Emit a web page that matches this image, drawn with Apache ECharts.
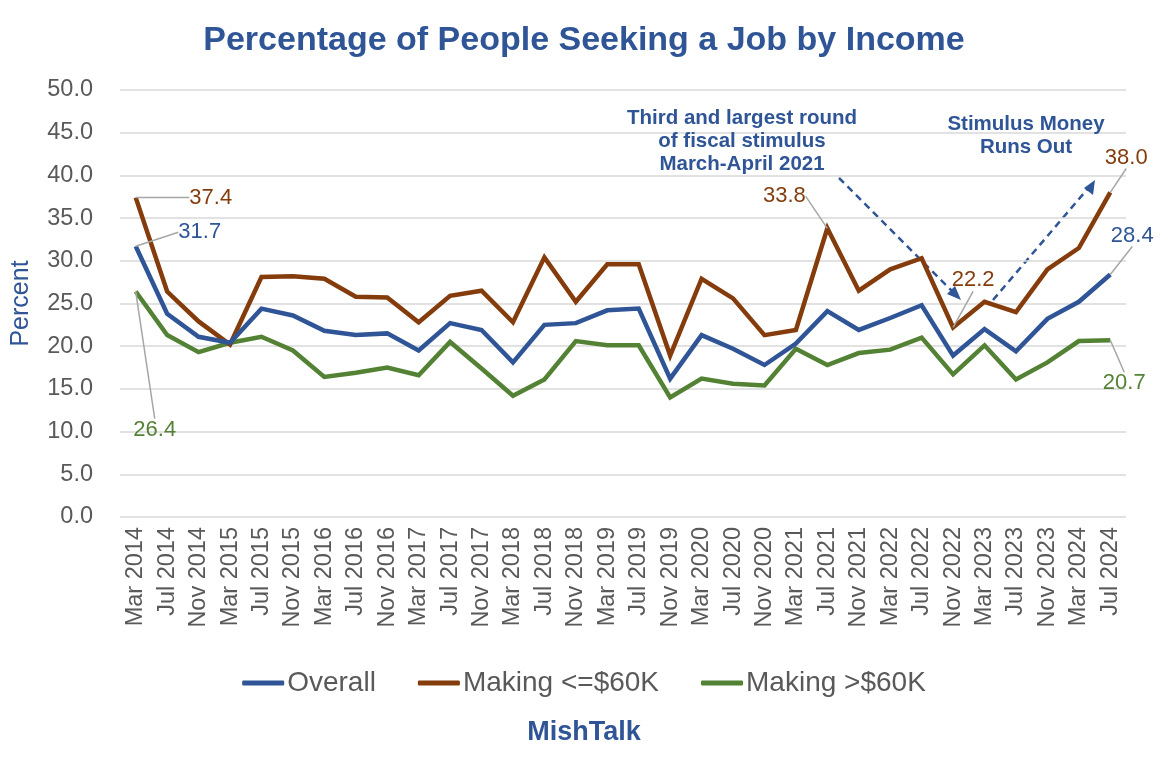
<!DOCTYPE html>
<html>
<head>
<meta charset="utf-8">
<script src="https://cdn.jsdelivr.net/npm/echarts@6/dist/echarts.min.js"></script>
<style>html,body{margin:0;padding:0;background:#fff}#c{width:1168px;height:779px}</style>
</head>
<body>
<div id="c"></div>
<script>
const categories = ['Mar 2014','Jul 2014','Nov 2014','Mar 2015','Jul 2015','Nov 2015','Mar 2016','Jul 2016','Nov 2016','Mar 2017','Jul 2017','Nov 2017','Mar 2018','Jul 2018','Nov 2018','Mar 2019','Jul 2019','Nov 2019','Mar 2020','Jul 2020','Nov 2020','Mar 2021','Jul 2021','Nov 2021','Mar 2022','Jul 2022','Nov 2022','Mar 2023','Jul 2023','Nov 2023','Mar 2024','Jul 2024'];
const overall = [31.7,23.8,21.1,20.4,24.4,23.6,21.8,21.3,21.5,19.5,22.7,21.9,18.1,22.5,22.7,24.2,24.4,16.2,21.3,19.7,17.8,20.3,24.1,21.9,23.3,24.8,18.9,22.0,19.4,23.2,25.2,28.4];
const lowIncome = [37.4,26.4,22.9,20.2,28.1,28.2,27.9,25.8,25.7,22.8,25.9,26.5,22.8,30.4,25.2,29.6,29.6,18.9,27.9,25.6,21.3,21.9,33.8,26.5,29.0,30.3,22.2,25.2,24.0,29.0,31.5,38.0];
const highIncome = [26.4,21.3,19.3,20.4,21.1,19.5,16.4,16.9,17.5,16.6,20.5,17.4,14.2,16.1,20.6,20.1,20.1,14.0,16.2,15.6,15.4,19.7,17.8,19.2,19.6,21.0,16.7,20.1,16.1,18.1,20.6,20.7];
const yTicks = [0,5,10,15,20,25,30,35,40,45,50];
const seriesNames = ['Overall','Making <=$60K','Making >$60K'];
const colors = ['#2F5597','#843C0C','#548235'];
// label offsets (dx, dy from point) for the labelled points
const labelOffsets = [
  {0:[64,-14], 31:[22,-39]},
  {0:[75,0], 22:[-43,-32], 26:[20,-47], 31:[16,-35]},
  {0:[19,138], 31:[14,43]}
];
const chart = echarts.init(document.getElementById('c'));
function mkSeries(i, arr){
  const offs = labelOffsets[i];
  return {
    name: seriesNames[i], type:'line', symbol:'circle', symbolSize:0.1, showSymbol:true,
    lineStyle:{width:4.5, color:colors[i], join:'miter'}, itemStyle:{color:colors[i]},
    emphasis:{disabled:true}, z: i===0?4:(i===1?3:2),
    data: arr.map((v,k)=> offs[k] ? {value:v, label:{show:true}, labelLine:{show:true}} : {value:v}),
    label:{show:false, position:'inside', formatter:p=>p.value.toFixed(1), color:colors[i], fontSize:22, fontFamily:'Liberation Sans, sans-serif'},
    labelLine:{show:false, lineStyle:{color:'#A6A6A6', width:1.5}},
    labelLayout: function(p){ const o = offs[p.dataIndex]; return o ? {dx:o[0], dy:o[1]} : {}; }
  };
}
const option = {
  animation:false,
  backgroundColor:'#fff',
  title:{text:'Percentage of People Seeking a Job by Income', left:'center', top:19,
    textStyle:{color:'#2F5597', fontSize:34, fontWeight:'bold', fontFamily:'Liberation Sans, sans-serif'}},
  grid:{left:120, right:42, top:90, height:427, outerBoundsMode:'none'},
  legend:{bottom:77, left:'center', itemWidth:42, itemHeight:5, itemGap:42, icon:'roundRect',
    textStyle:{color:'#595959', fontSize:28, padding:[0,0,0,-2], fontFamily:'Liberation Sans, sans-serif'}, data:seriesNames},
  xAxis:{type:'category', data:categories, boundaryGap:true,
    axisLine:{show:false}, axisTick:{show:false},
    axisLabel:{rotate:90, interval:0, color:'#595959', fontSize:23.5, margin:10, fontFamily:'Liberation Sans, sans-serif'}},
  yAxis:{type:'value', min:0, max:50, interval:5,
    name:'Percent', nameLocation:'middle', nameGap:86, nameRotate:90,
    nameTextStyle:{color:'#2F5597', fontSize:25, fontFamily:'Liberation Sans, sans-serif'},
    axisLine:{show:false}, axisTick:{show:false},
    splitLine:{lineStyle:{color:'#D9D9D9', width:1.5}},
    axisLabel:{color:'#595959', fontSize:23.5, margin:27, formatter:v=>v.toFixed(1), fontFamily:'Liberation Sans, sans-serif'}},
  series:[mkSeries(1,lowIncome), mkSeries(2,highIncome), mkSeries(0,overall)],
  graphic:[
    {type:'text', left:'center', top:719, style:{text:'MishTalk', fill:'#2F5597', font:'bold 27px "Liberation Sans", sans-serif'}},
    {type:'text', x:742, y:106.5, z:100, style:{text:'Third and largest round\nof fiscal stimulus\nMarch-April 2021', fill:'#2F5597', align:'center', lineHeight:23, font:'bold 20.5px "Liberation Sans", Arial, sans-serif'}},
    {type:'text', x:1026, y:113, z:100, style:{text:'Stimulus Money\nRuns Out', fill:'#2F5597', align:'center', lineHeight:23, font:'bold 20.5px "Liberation Sans", Arial, sans-serif'}},
    {type:'line', shape:{x1:839, y1:178, x2:955, y2:294}, style:{stroke:'#2F5597', lineWidth:2.5, lineDash:[7,5]}},
    {type:'polygon', shape:{points:[[961,300],[947,294],[955,286]]}, style:{fill:'#2F5597'}},
    {type:'line', shape:{x1:993, y1:300, x2:1090, y2:186}, style:{stroke:'#2F5597', lineWidth:2.5, lineDash:[7,5]}},
    {type:'polygon', shape:{points:[[1095,180],[1093,195],[1084,188]]}, style:{fill:'#2F5597'}}
  ]
};
chart.setOption(option);
</script>
</body>
</html>
